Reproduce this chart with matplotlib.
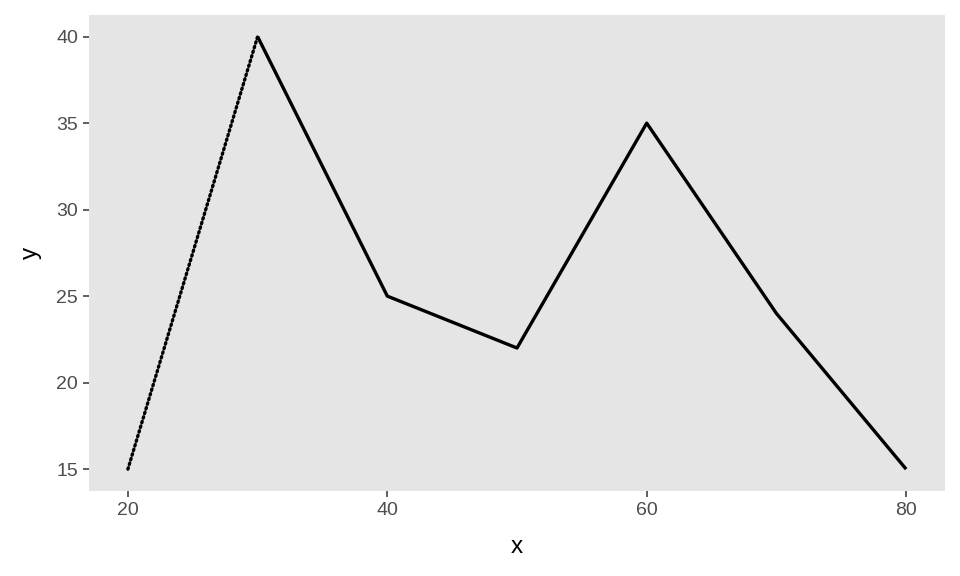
import matplotlib
matplotlib.use('Agg')
import matplotlib.pyplot as plt

# Data
x = [20, 30, 40, 50, 60, 70, 80]
y = [15, 40, 25, 22, 35, 24, 15]

plt.rcParams['font.family'] = ['Liberation Sans', 'DejaVu Sans']

fig = plt.figure(figsize=(9.6, 5.76), dpi=100)
ax = fig.add_axes([0.0927, 0.148, 0.8917, 0.826])
ax.set_facecolor('#E5E5E5')

# first segment dotted, the rest solid
ax.plot(x[:2], y[:2], color='black', linewidth=2.4, linestyle=(0, (0.45, 1.0)),
        dash_capstyle='round')
ax.plot(x[1:], y[1:], color='black', linewidth=2.4, solid_capstyle='butt',
        solid_joinstyle='round')

ax.set_xlim(17, 83)
ax.set_ylim(13.75, 41.25)
ax.set_xticks([20, 40, 60, 80])
ax.set_yticks([15, 20, 25, 30, 35, 40])

for s in ax.spines.values():
    s.set_visible(False)
ax.tick_params(axis='both', length=4, width=1.1, color='#333333',
               labelcolor='#4D4D4D', labelsize=14, pad=4)

ax.set_xlabel('x', fontsize=17.5, color='black', labelpad=12)
ax.set_ylabel('y', fontsize=17.5, color='black', labelpad=10)

plt.savefig('out.png', dpi=100)
